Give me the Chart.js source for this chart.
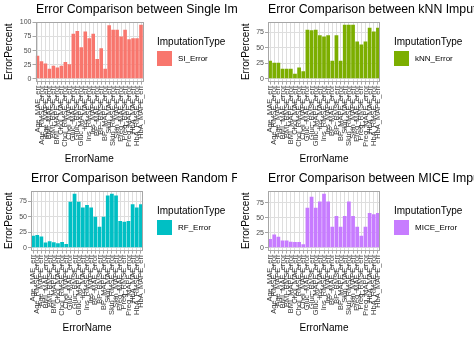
<!DOCTYPE html>
<html>
<head>
<meta charset="utf-8">
<script src="https://cdn.jsdelivr.net/npm/chart.js@4"></script>
<style>
  html, body { margin: 0; padding: 0; background: #ffffff; }
  body { width: 474px; height: 338px; position: relative; overflow: hidden;
         font-family: "Liberation Sans", Arial, sans-serif; }
  .panel { position: absolute; width: 237px; height: 169px; overflow: hidden; }
  .panel canvas { position: absolute; left: 0; top: 0; }
  .ptitle { position: absolute; top: 2px; white-space: nowrap; font-size: 12.3px;
            line-height: 14px; color: #000; }
  .ltitle { position: absolute; left: 157px; top: 36px; font-size: 10px; line-height: 12px;
            color: #000; white-space: nowrap; }
  .lkey { position: absolute; left: 157px; top: 51px; width: 15px; height: 15px; }
  .llabel { position: absolute; left: 178px; top: 53px; font-size: 8px; line-height: 11px;
            color: #000; white-space: nowrap; }
</style>
</head>
<body>
<script>
// Error names on the x axis (nine variables, three error measures each)
const errorNames = [
  "Age_MAE_err", "Age_RMSE_error", "Age_MAPE_err",
  "BMI_MAE_error", "BMI_RMSE_err", "BMI_MAPE_error",
  "Chol_MAE_err", "Chol_RMSE_error", "Chol_MAPE_err",
  "Gluc_MAE_error", "Gluc_RMSE_err", "Gluc_MAPE_error",
  "Ins_MAE_err", "Ins_RMSE_error", "Ins_MAPE_err",
  "BP_MAE_error", "BP_RMSE_err", "BP_MAPE_error",
  "Skin_MAE_err", "Skin_RMSE_error", "Skin_MAPE_err",
  "Preg_MAE_error", "Preg_RMSE_err", "Preg_MAPE_error",
  "HbA_MAE_err", "HbA_RMSE_error", "HbA_MAPE_err"
];

// Error percentages per imputation method
const siError   = [41, 31, 27, 18, 23, 20, 23, 30, 26, 80, 85, 56, 84, 72, 80, 35, 54, 18, 95, 87, 87, 75, 87, 70, 72, 72, 96];
const knnError  = [29, 26, 26, 16, 16, 16, 8, 18, 12, 79, 78, 79, 70, 68, 70, 29, 70, 29, 87, 87, 87, 60, 55, 60, 82, 76, 82];
const rfError   = [19.5, 20.5, 18, 8.5, 10.5, 9, 7.5, 9.5, 6, 74, 87, 74, 65, 69, 65, 50, 34, 50, 84, 87, 84, 43, 42, 43, 70, 65, 70];
const miceError = [14.5, 22, 18.5, 12, 12, 10, 9.5, 9.5, 6, 66.5, 85, 66.5, 77, 90, 77, 35, 53, 35, 53, 77, 53, 35, 20, 35, 58, 56, 58];

// Labelled y ticks per panel
const yTicksSI    = [0, 25, 50, 75, 100];
const yTicksOther = [0, 25, 50, 75];

const panels = [
  { title: "Error Comparison between Single Imputation and Actual Values", series: "SI_Error",
    values: siError, color: "#F8766D", ticks: yTicksSI, col: 0, row: 0, axisWidth: 35.5 },
  { title: "Error Comparison between kNN Imputation and Actual Values", series: "kNN_Error",
    values: knnError, color: "#7CAE00", ticks: yTicksOther, col: 1, row: 0, axisWidth: 31 },
  { title: "Error Comparison between Random Forest Imputation and Actual Values", series: "RF_Error",
    values: rfError, color: "#00BFC4", ticks: yTicksOther, col: 0, row: 1, axisWidth: 31 },
  { title: "Error Comparison between MICE Imputation and Actual Values", series: "MICE_Error",
    values: miceError, color: "#C77CFF", ticks: yTicksOther, col: 1, row: 1, axisWidth: 31 }
];

const FONT = "'Liberation Sans', Arial, sans-serif";
const GRID_MAJOR = "#dedede";
const GRID_MINOR = "#efefef";
const FRAME = "#a6a6a6";

// Draws the grey frame around the plotting area
const framePlugin = {
  id: "panelFrame",
  afterDraw(chart) {
    const a = chart.chartArea, ctx = chart.ctx;
    ctx.save();
    ctx.strokeStyle = FRAME;
    ctx.lineWidth = 1;
    ctx.strokeRect(Math.round(a.left) + 0.5, Math.round(a.top) + 0.5,
                   Math.round(a.right - a.left) - 1, Math.round(a.bottom - a.top) - 1);
    ctx.restore();
  }
};

panels.forEach(p => {
  const div = document.createElement("div");
  div.className = "panel";
  div.style.left = (p.col * 237) + "px";
  div.style.top = (p.row * 169) + "px";

  const canvas = document.createElement("canvas");
  canvas.width = 237; canvas.height = 169;
  canvas.style.width = "237px"; canvas.style.height = "169px";
  div.appendChild(canvas);

  const t = document.createElement("div");
  t.className = "ptitle";
  t.style.left = Math.round(p.axisWidth) + "px";
  t.textContent = p.title;
  div.appendChild(t);

  const lt = document.createElement("div");
  lt.className = "ltitle"; lt.textContent = "ImputationType";
  div.appendChild(lt);
  const lk = document.createElement("div");
  lk.className = "lkey"; lk.style.background = p.color;
  div.appendChild(lk);
  const ll = document.createElement("div");
  ll.className = "llabel"; ll.textContent = p.series;
  div.appendChild(ll);

  document.body.appendChild(div);

  const maxVal = Math.max(...p.values);
  const yMin = -0.05 * maxVal, yMax = 1.05 * maxVal;
  // major ticks plus half-step minor lines
  const allTicks = [];
  for (let v = 0; v <= yMax + 1e-9; v += 12.5) allTicks.push(v);

  new Chart(canvas, {
    type: "bar",
    data: {
      labels: errorNames,
      datasets: [{
        label: p.series,
        data: p.values,
        backgroundColor: p.color,
        borderWidth: 0,
        barPercentage: 0.9,
        categoryPercentage: 1.0
      }]
    },
    options: {
      responsive: false,
      animation: false,
      devicePixelRatio: 1,
      layout: { padding: { top: 22, right: 94, left: 0, bottom: 0 } },
      plugins: { legend: { display: false }, title: { display: false }, tooltip: { enabled: false } },
      scales: {
        x: {
          offset: true,
          grid: { offset: false, color: GRID_MAJOR, lineWidth: 1, drawTicks: true,
                  tickLength: 3, tickColor: FRAME, tickWidth: 1 },
          border: { display: false },
          ticks: { autoSkip: false, minRotation: 90, maxRotation: 90, padding: 1,
                   color: "#3a3a3a", font: { family: FONT, size: 7.5 } },
          title: { display: true, text: "ErrorName", color: "#000",
                   font: { family: FONT, size: 10 }, padding: { top: 0, bottom: 4 } },
          afterFit(scale) { scale.height = 87.5; }
        },
        y: {
          min: yMin, max: yMax,
          afterBuildTicks(scale) { scale.ticks = allTicks.map(v => ({ value: v })); },
          grid: {
            color: ctx => (ctx.tick && p.ticks.includes(ctx.tick.value)) ? GRID_MAJOR : GRID_MINOR,
            lineWidth: ctx => (ctx.tick && p.ticks.includes(ctx.tick.value)) ? 1 : 0.6,
            drawTicks: true, tickLength: 3,
            tickColor: ctx => (ctx.tick && p.ticks.includes(ctx.tick.value)) ? FRAME : "rgba(0,0,0,0)",
            tickWidth: 1
          },
          border: { display: false },
          ticks: {
            padding: 1, color: "#4d4d4d", font: { family: FONT, size: 7 },
            callback: v => p.ticks.includes(v) ? String(v) : ""
          },
          title: { display: true, text: "ErrorPercent", color: "#000",
                   font: { family: FONT, size: 10 }, padding: { top: 3, bottom: 0 } },
          afterFit(scale) { scale.width = p.axisWidth; }
        }
      }
    },
    plugins: [framePlugin]
  });
});
</script>
</body>
</html>
